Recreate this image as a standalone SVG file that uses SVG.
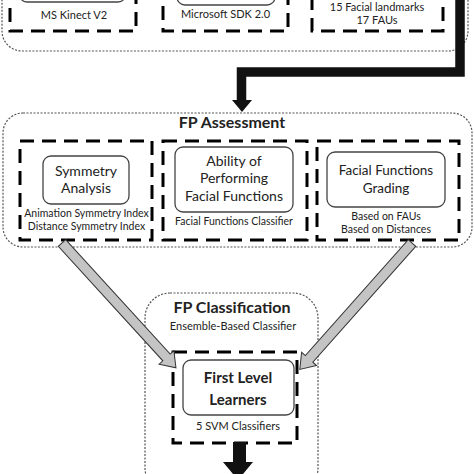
<svg xmlns="http://www.w3.org/2000/svg" width="474" height="474" viewBox="0 0 474 474">
<style>
.outer{fill:none;stroke:#555;stroke-width:1.2;stroke-dasharray:2 1.5}
.dash{fill:none;stroke:#000;stroke-width:3;stroke-dasharray:14 8}
.inner{fill:#fff;stroke:#444;stroke-width:1.3}
text{font-family:Lato,"Liberation Sans",sans-serif;fill:#222;text-anchor:middle}
.t{font-size:14px}
.s{font-size:10.5px}
.m{font-size:11px}
.h{font-size:16px;font-weight:bold}
.b{font-size:15px;font-weight:bold}
.garrow{fill:#c4c4c4;stroke:#333;stroke-width:1}
</style>
<rect width="474" height="474" fill="#fff"/>
<g id="acquisition">
<rect class="outer" x="2" y="-60" width="466" height="111" rx="20"/>
<g id="kinect">
<rect class="dash" x="10" y="-60" width="126" height="91"/>
<rect class="inner" x="19" y="-40" width="107" height="42" rx="8"/>
<text class="m" x="74" y="19">MS Kinect V2</text>
</g>
<g id="sdk">
<rect class="dash" x="163" y="-60" width="125" height="91"/>
<rect class="inner" x="177" y="-40" width="98" height="45" rx="8"/>
<text class="m" x="225.5" y="18">Microsoft SDK 2.0</text>
</g>
<g id="features">
<rect class="dash" x="312" y="-60" width="131" height="91"/>
<text class="m" x="377" y="11">15 Facial landmarks</text>
<text class="m" x="377" y="24">17 FAUs</text>
</g>
</g>
<g id="assessment">
<rect class="outer" x="3" y="113" width="469" height="134" rx="20"/>
<text class="h" x="232" y="128">FP Assessment</text>
<g id="symmetry">
<rect class="dash" x="20" y="141" width="132" height="99"/>
<rect class="inner" x="43" y="156" width="86" height="48" rx="8"/>
<text class="t" x="86" y="176">Symmetry</text>
<text class="t" x="86" y="193">Analysis</text>
<text class="s" x="86.5" y="217">Animation Symmetry Index</text>
<text class="s" x="86.5" y="230">Distance Symmetry Index</text>
</g>
<g id="ability">
<rect class="dash" x="163" y="141" width="144" height="99"/>
<rect class="inner" x="175" y="147" width="118" height="65" rx="8"/>
<text class="t" x="234" y="166">Ability of</text>
<text class="t" x="234" y="183">Performing</text>
<text class="t" x="234" y="201">Facial Functions</text>
<text class="s" x="234" y="225">Facial Functions Classifier</text>
</g>
<g id="grading">
<rect class="dash" x="317" y="141" width="142" height="99"/>
<rect class="inner" x="327" y="152" width="118" height="55" rx="8"/>
<text class="t" x="386" y="175" style="font-size:13.5px">Facial Functions</text>
<text class="t" x="386" y="193" style="font-size:13.5px">Grading</text>
<text class="s" x="386" y="220">Based on FAUs</text>
<text class="s" x="386" y="233">Based on Distances</text>
</g>
</g>
<g id="classification">
<rect class="outer" x="145" y="293" width="173" height="200" rx="25"/>
<text class="h" x="232" y="313">FP Classification</text>
<text class="m" x="233" y="330">Ensemble-Based Classifier</text>
<g id="learners">
<rect class="dash" x="173" y="352" width="124" height="91"/>
<rect class="inner" x="183" y="360" width="111" height="55" rx="8"/>
<text class="b" x="238" y="383">First Level</text>
<text class="b" x="238" y="405">Learners</text>
<text class="m" x="238" y="430">5 SVM Classifiers</text>
</g>
</g>
<g id="connectors">
<polyline points="460,-5 460,72 241.5,72 241.5,101" fill="none" stroke="#111" stroke-width="9.5"/>
<polygon points="232,100 252,100 242,112" fill="#111"/>
<rect x="233" y="442" width="13" height="21" fill="#111"/>
<polygon points="223,462 253,462 238,480" fill="#111"/>
<polygon class="garrow" transform="translate(62,243) rotate(47.6)" points="0,-5 155,-5 155,-10 169,0 155,10 155,5 0,5"/>
<polygon class="garrow" transform="translate(412,243) rotate(131.6)" points="0,-5 155,-5 155,-10 169,0 155,10 155,5 0,5"/>
</g>
</svg>
